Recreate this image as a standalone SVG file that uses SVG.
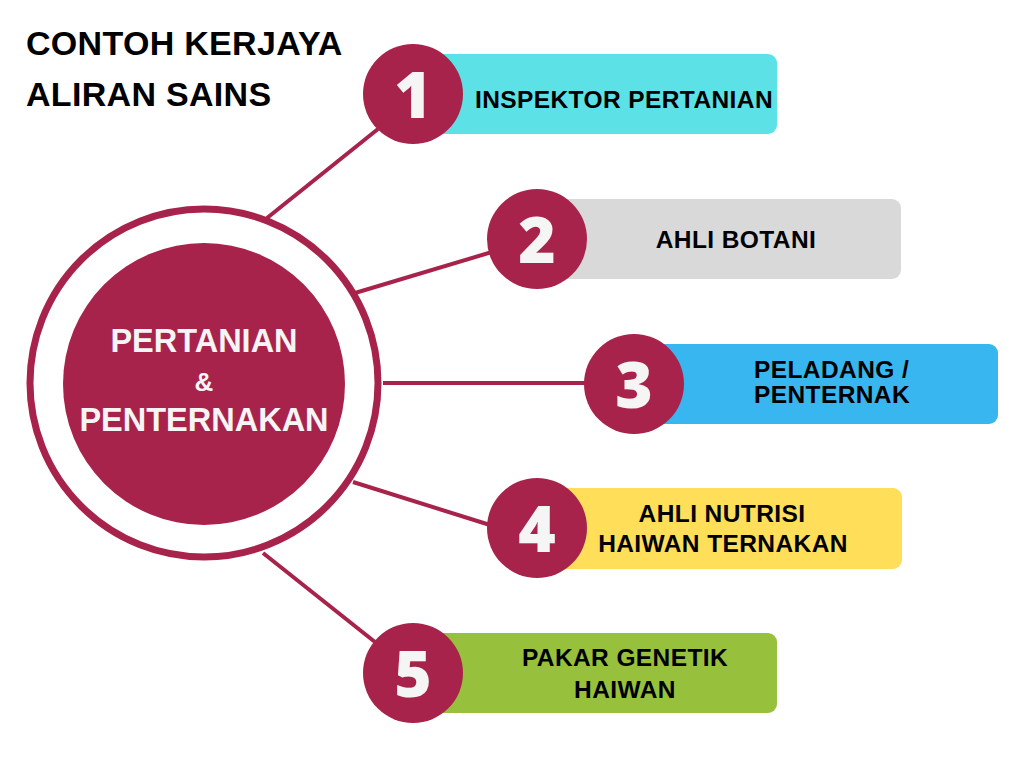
<svg xmlns="http://www.w3.org/2000/svg" width="1024" height="768" viewBox="0 0 1024 768">
<style>
.title{font-family:"Liberation Sans",Arial,sans-serif;font-weight:bold;font-size:34px;fill:#000;letter-spacing:0.3px}
.lbl{font-family:"Liberation Sans",Arial,sans-serif;font-weight:bold;font-size:24.5px;fill:#000;text-anchor:middle;letter-spacing:0.4px}
.num{font-family:"Open Sans","Liberation Sans",sans-serif;font-weight:800;font-size:64px;fill:#F5F5F5;text-anchor:middle}
.ctr{font-family:"Liberation Sans",Arial,sans-serif;font-weight:bold;fill:#F5F5F5;text-anchor:middle}
.dot{fill:#A8234B}
.conn{stroke:#A8234B;stroke-width:4;fill:none}
</style>
<rect width="1024" height="768" fill="#FFFFFF"/>
<g id="title">
<text class="title" x="26" y="55">CONTOH KERJAYA</text>
<text class="title" x="26" y="106">ALIRAN SAINS</text>
</g>
<g id="connectors">
<line class="conn" x1="267" y1="218" x2="378" y2="129"/>
<line class="conn" x1="355" y1="293" x2="492" y2="252"/>
<line class="conn" x1="383" y1="383" x2="588" y2="383"/>
<line class="conn" x1="353" y1="482" x2="490" y2="525"/>
<line class="conn" x1="263" y1="553" x2="380" y2="646"/>
</g>
<g id="center">
<circle cx="204" cy="383" r="174" fill="none" stroke="#A8234B" stroke-width="7"/>
<circle class="dot" cx="204" cy="384" r="141"/>
<text class="ctr" x="204" y="352" font-size="32.5">PERTANIAN</text>
<text class="ctr" x="204" y="391" font-size="26">&amp;</text>
<text class="ctr" x="204" y="431" font-size="32.5">PENTERNAKAN</text>
</g>
<g id="node1">
<rect x="413" y="54" width="364" height="80" rx="9" fill="#5CE1E6"/>
<circle class="dot" cx="413" cy="94" r="50"/>
<text class="num" x="413" y="118">1</text>
<text class="lbl" x="624" y="108">INSPEKTOR PERTANIAN</text>
</g>
<g id="node2">
<rect x="537" y="199" width="364" height="80" rx="9" fill="#D9D9D9"/>
<circle class="dot" cx="537" cy="239" r="50"/>
<text class="num" x="537" y="263">2</text>
<text class="lbl" x="736" y="248">AHLI BOTANI</text>
</g>
<g id="node3">
<rect x="634" y="344" width="364" height="80" rx="9" fill="#38B6F0"/>
<circle class="dot" cx="634" cy="384" r="50"/>
<text class="num" x="634" y="408">3</text>
<text class="lbl" x="754" y="378" style="text-anchor:start">PELADANG /</text>
<text class="lbl" x="754" y="403" style="text-anchor:start">PENTERNAK</text>
</g>
<g id="node4">
<rect x="537" y="488" width="365" height="81" rx="9" fill="#FFDE59"/>
<circle class="dot" cx="537" cy="528" r="50"/>
<text class="num" x="537" y="552">4</text>
<text class="lbl" x="722" y="522">AHLI NUTRISI</text>
<text class="lbl" x="723" y="552">HAIWAN TERNAKAN</text>
</g>
<g id="node5">
<rect x="413" y="633" width="364" height="80" rx="9" fill="#97C13D"/>
<circle class="dot" cx="413" cy="673" r="50"/>
<text class="num" x="413" y="697">5</text>
<text class="lbl" x="625" y="666">PAKAR GENETIK</text>
<text class="lbl" x="625" y="698">HAIWAN</text>
</g>
</svg>
